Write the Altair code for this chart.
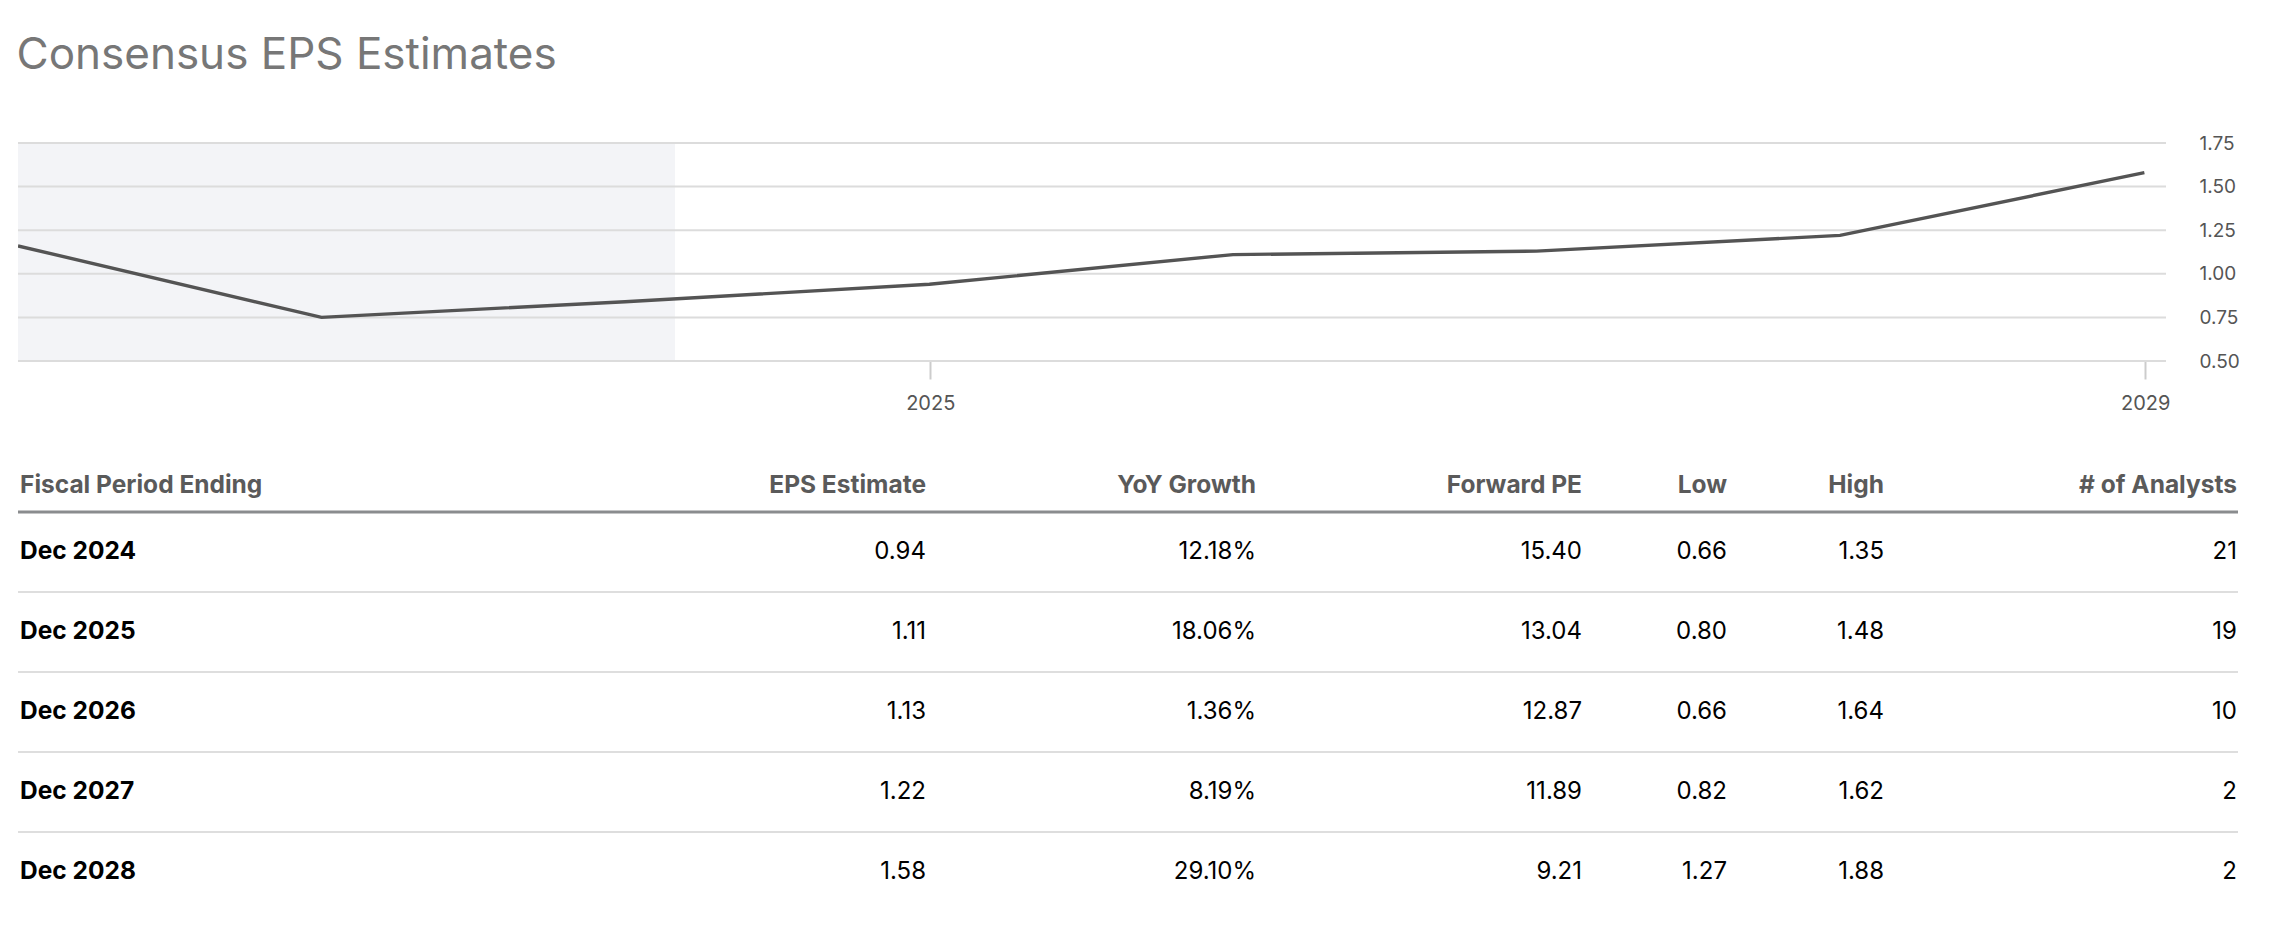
import altair as alt
import pandas as pd

# ---------------- data ----------------
line_dates = ["2021-12-31", "2022-12-31", "2023-12-31", "2024-12-31",
              "2025-12-31", "2026-12-31", "2027-12-31", "2028-12-31"]
line_eps = [1.16, 0.75, 0.84, 0.94, 1.11, 1.13, 1.22, 1.58]
actual_start = ["2021-12-31"]
actual_end = ["2024-02-29"]
y_ticks = [0.50, 0.75, 1.00, 1.25, 1.50, 1.75]

headers = ["Fiscal Period Ending", "EPS Estimate", "YoY Growth", "Forward PE",
           "Low", "High", "# of Analysts"]
periods = ["Dec 2024", "Dec 2025", "Dec 2026", "Dec 2027", "Dec 2028"]
eps_est = [0.94, 1.11, 1.13, 1.22, 1.58]
yoy_growth = [12.18, 18.06, 1.36, 8.19, 29.10]
forward_pe = [15.40, 13.04, 12.87, 11.89, 9.21]
low_est = [0.66, 0.80, 0.66, 0.82, 1.27]
high_est = [1.35, 1.48, 1.64, 1.62, 1.88]
analysts = [21, 19, 10, 2, 2]

# ---------------- styles ----------------
FONT = "Inter"
W, H = 2148, 218
TW, TH = 2220, 448
GRAY = "#555555"

line_df = pd.DataFrame({"date": line_dates, "eps": line_eps})
shade_df = pd.DataFrame({"start": actual_start, "end": actual_end})
grid_df = pd.DataFrame({"v": y_ticks})

xscale = alt.Scale(type="utc",
                   domain=[alt.DateTime(year=2021, month=12, date=31, utc=True),
                           alt.DateTime(year=2029, month=1, date=26, utc=True)])
yscale = alt.Scale(domain=[0.5, 1.75], nice=False, zero=False)

x_axis = alt.Axis(values=[alt.DateTime(year=2025, month=1, date=1, utc=True),
                          alt.DateTime(year=2029, month=1, date=1, utc=True)],
                  format="%Y", grid=False, domain=False, ticks=True,
                  tickSize=18, tickColor="#cccccc", tickWidth=2,
                  labelPadding=14, labelFontSize=20, labelColor=GRAY,
                  labelFont=FONT, title=None)
y_axis = alt.Axis(orient="right", values=y_ticks, format=".2f", grid=False,
                  domain=False, ticks=False, labelPadding=33, labelFontSize=19,
                  labelColor=GRAY, labelFont=FONT, title=None)

shade = alt.Chart(shade_df).mark_rect(color="#f3f4f7").encode(
    x=alt.X("start:T", scale=xscale, axis=x_axis),
    x2="end:T",
)
grid = alt.Chart(grid_df).mark_rule(color="#dcdcdc", strokeWidth=2).encode(
    y=alt.Y("v:Q", scale=yscale, axis=y_axis),
)
line = alt.Chart(line_df).mark_line(color="#545454", strokeWidth=3.4, clip=True).encode(
    x=alt.X("date:T", scale=xscale, axis=x_axis),
    y=alt.Y("eps:Q", scale=yscale, axis=y_axis),
)
line_chart = alt.layer(shade, grid, line).properties(width=W, height=H)

# ---------------- table ----------------
tbl = pd.DataFrame({
    "row": list(range(len(periods))),
    "period": periods,
    "eps": eps_est,
    "yoy": yoy_growth,
    "fpe": forward_pe,
    "low": low_est,
    "high": high_est,
    "n": analysts,
})
hdr_df = pd.DataFrame({"label": headers})

yrow = alt.Scale(domain=[-1.2, 4.4], nice=False, zero=False, reverse=True)

col_fields = ["period", "eps_t", "yoy_t", "fpe_t", "low_t", "high_t", "n_t"]
col_x = [2, 908, 1238, 1564, 1709, 1866, 2219]
col_align = ["left", "right", "right", "right", "right", "right", "right"]

base_tbl = alt.Chart(tbl).transform_calculate(
    eps_t="format(datum.eps, '.2f')",
    yoy_t="format(datum.yoy, '.2f') + '%'",
    fpe_t="format(datum.fpe, '.2f')",
    low_t="format(datum.low, '.2f')",
    high_t="format(datum.high, '.2f')",
    n_t="format(datum.n, 'd')",
)

layers = []
# header rule and row separators
layers.append(
    alt.Chart(hdr_df).transform_filter(alt.datum.label == headers[0])
    .mark_rule(color="#8a8c8e", strokeWidth=3)
    .encode(y=alt.value(56), x=alt.value(0), x2=alt.value(TW))
)
layers.append(
    alt.Chart(tbl).transform_filter(alt.datum.row < len(periods) - 1)
    .transform_calculate(sep="datum.row + 0.5")
    .mark_rule(color="#dedede", strokeWidth=2)
    .encode(y=alt.Y("sep:Q", scale=yrow, axis=None), x=alt.value(0), x2=alt.value(TW))
)
for i, h in enumerate(headers):
    layers.append(
        alt.Chart(hdr_df).transform_filter(alt.datum.label == h)
        .mark_text(align=col_align[i], baseline="middle", font=FONT,
                   fontSize=24.5, fontWeight=700, color="#5a5a5a")
        .encode(text="label:N", x=alt.value(col_x[i]), y=alt.value(30))
    )
    layers.append(
        base_tbl.mark_text(align=col_align[i], baseline="middle", font=FONT,
                           fontSize=24.5 if i == 0 else 24,
                           fontWeight=700 if i == 0 else 400,
                           color="#000000")
        .encode(text=alt.Text(col_fields[i] + ":N"), x=alt.value(col_x[i]),
                y=alt.Y("row:Q", scale=yrow, axis=None))
    )

table = alt.layer(*layers).properties(width=TW, height=TH)

chart = alt.vconcat(line_chart, table, spacing=43).properties(
    title=alt.Title("Consensus EPS Estimates", anchor="start", fontSize=44,
                    font=FONT, fontWeight=400, color="#777777", offset=56),
    padding={"left": 8, "top": 26, "right": 10, "bottom": 2},
).configure_view(stroke=None)

chart.save("out.html", embed_options={"renderer": "svg", "actions": False})
